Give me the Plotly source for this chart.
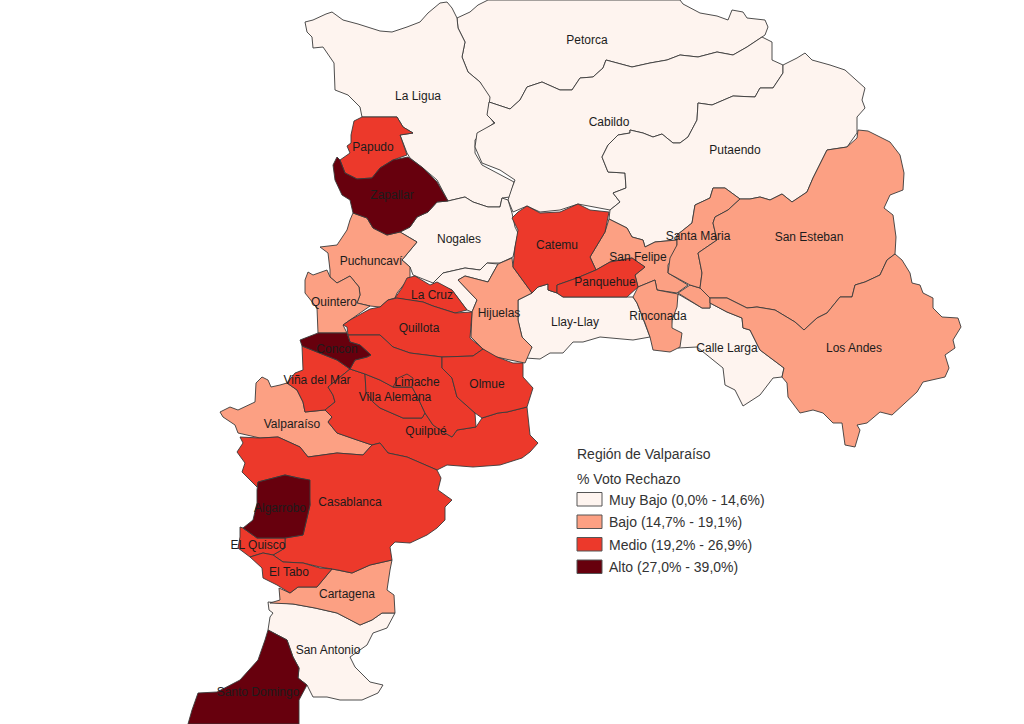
import plotly.graph_objects as go

# outlines of each comuna (x, y as on the picture)
petorca = [(457,18),(470,12),(478,5),(488,0),(680,0),(683,4),(700,13),(717,16),(728,20),(732,10),(743,12),(747,18),(765,20),(768,27),(765,35),(762,37),(747,47),(733,55),(717,52),(698,57),(680,55),(667,60),(650,63),(632,67),(606,60),(603,68),(593,77),(580,78),(572,90),(560,90),(542,82),(527,87),(520,100),(510,109),(498,105),(489,102),(480,82),(468,72),(462,57),(465,42),(458,28)]
la_ligua = [(305,22),(313,20),(326,14),(332,12),(343,20),(358,24),(380,31),(392,32),(407,27),(420,22),(428,13),(440,3),(447,2),(452,8),(457,18),(458,28),(465,42),(462,57),(468,72),(480,82),(490,97),(488,115),(494,123),(482,132),(475,140),(475,153),(482,165),(500,175),(514,182),(510,197),(502,198),(500,207),(488,207),(473,202),(465,197),(448,201),(437,180),(423,168),(410,158),(407,153),(400,135),(413,133),(403,127),(397,117),(377,117),(362,117),(360,107),(348,95),(335,90),(334,63),(323,47),(313,48),(312,37),(307,32)]
cabildo = [(489,102),(498,105),(510,109),(520,100),(527,87),(542,82),(560,90),(572,90),(580,78),(593,77),(603,68),(606,60),(632,67),(650,63),(667,60),(680,55),(698,57),(717,52),(733,55),(747,47),(762,37),(772,42),(772,60),(783,65),(783,73),(773,88),(760,88),(755,97),(733,96),(712,105),(698,103),(697,120),(688,137),(680,143),(673,143),(662,134),(653,137),(643,133),(630,130),(630,133),(618,135),(608,145),(602,157),(608,172),(625,173),(626,188),(613,193),(620,202),(610,210),(578,204),(560,210),(540,212),(527,206),(513,212),(508,200),(512,188),(515,180),(500,170),(482,163),(475,147),(477,133),(495,123),(487,115)]
putaendo = [(630,130),(643,133),(653,137),(662,134),(673,143),(680,143),(688,137),(697,120),(698,103),(712,105),(733,96),(755,97),(760,88),(773,88),(783,73),(783,65),(797,58),(805,53),(812,60),(830,65),(845,70),(865,88),(862,100),(865,108),(857,117),(857,133),(847,147),(827,150),(813,178),(807,192),(792,202),(782,194),(770,200),(760,197),(750,199),(740,199),(725,188),(713,188),(710,198),(695,205),(692,223),(677,235),(677,240),(655,242),(645,247),(643,240),(632,237),(627,228),(609,219),(610,210),(620,202),(613,193),(626,188),(625,173),(608,172),(602,157),(608,145),(618,135),(630,133)]
papudo = [(354,121),(362,117),(377,117),(397,117),(403,127),(413,133),(400,135),(407,155),(393,160),(380,168),(372,178),(357,179),(345,173),(340,160),(350,153),(347,146),(351,143),(351,135)]
zapallar = [(337,157),(340,160),(345,173),(357,179),(372,178),(380,168),(393,160),(408,157),(423,168),(437,182),(448,201),(437,202),(428,212),(417,217),(410,227),(400,232),(387,235),(373,228),(367,218),(353,213),(350,200),(342,195),(335,180),(333,165)]
nogales = [(448,201),(465,197),(473,202),(488,207),(500,207),(502,198),(508,200),(512,213),(515,227),(518,233),(513,257),(500,263),(487,263),(480,270),(465,268),(443,273),(433,283),(413,275),(410,267),(402,260),(417,242),(400,232),(410,227),(417,217),(428,212),(437,202)]
la_calera = [(433,283),(443,273),(465,268),(480,270),(487,263),(498,264),(488,282),(465,276),(458,280),(477,300),(472,312),(467,310),(452,290)]
puchuncavi = [(353,213),(367,218),(373,228),(387,235),(400,232),(417,242),(402,260),(410,267),(410,277),(397,293),(395,298),(388,300),(380,307),(370,306),(357,303),(360,295),(359,287),(350,276),(337,283),(330,277),(330,270),(328,253),(320,247),(337,245),(347,230),(350,220)]
quintero = [(305,280),(308,272),(313,275),(327,270),(330,277),(337,283),(350,276),(359,287),(360,295),(357,303),(370,306),(350,320),(343,325),(347,333),(327,333),(318,333),(317,308),(312,302),(305,293)]
concon = [(300,340),(318,333),(327,333),(347,333),(350,342),(360,345),(371,355),(367,357),(355,360),(350,369),(337,360),(317,352),(302,346)]
vina_del_mar = [(302,346),(317,352),(337,360),(350,369),(345,373),(337,380),(328,387),(333,395),(335,402),(325,410),(305,412),(303,402),(297,390),(287,383),(295,373),(303,370)]
valparaiso = [(220,412),(230,407),(238,410),(255,402),(256,383),(262,377),(268,380),(271,387),(280,385),(287,383),(297,390),(303,402),(305,412),(325,410),(332,417),(328,422),(337,433),(357,440),(372,445),(363,455),(337,453),(308,457),(300,447),(278,437),(260,438),(238,433),(235,425),(223,417)]
la_cruz = [(395,298),(402,288),(407,278),(415,276),(430,285),(437,282),(452,290),(467,310),(455,313),(433,306),(423,302),(397,298)]
quillota = [(343,325),(350,320),(370,309),(380,307),(388,300),(397,298),(423,302),(433,306),(455,313),(472,312),(470,338),(483,349),(473,356),(442,357),(410,353),(393,347),(380,335),(348,335),(347,327)]
hijuelas = [(458,280),(465,276),(488,282),(498,264),(512,258),(513,267),(532,293),(518,300),(518,320),(522,337),(532,347),(525,363),(510,360),(492,356),(483,349),(471,337),(472,312),(477,300)]
catemu = [(512,218),(518,212),(527,206),(540,213),(560,212),(578,204),(590,210),(609,212),(605,232),(590,257),(596,270),(577,278),(557,285),(557,293),(548,290),(548,284),(538,287),(532,293),(513,267),(515,247),(518,230)]
san_felipe = [(609,219),(627,228),(632,237),(643,240),(645,247),(655,242),(677,240),(677,250),(668,265),(668,273),(688,285),(677,293),(657,290),(655,280),(638,287),(635,275),(645,267),(632,258),(610,262),(596,270),(590,257),(605,232)]
san_felipe_sur = [(690,285),(700,288),(710,298),(710,308),(702,308),(678,293)]
panquehue = [(557,285),(577,278),(596,270),(610,262),(632,258),(645,267),(635,275),(638,287),(627,297),(603,297),(583,297),(563,297),(557,293)]
llay_llay = [(518,300),(532,293),(538,287),(548,284),(548,290),(557,293),(563,297),(583,297),(603,297),(627,297),(633,297),(637,303),(645,323),(650,337),(633,340),(613,338),(600,337),(583,342),(573,342),(563,353),(550,353),(540,359),(525,358),(532,347),(522,337),(518,320)]
calle_larga = [(678,294),(702,308),(710,308),(710,303),(727,312),(742,318),(743,328),(750,330),(760,350),(784,368),(782,377),(773,378),(760,395),(743,406),(735,390),(725,385),(723,368),(707,355),(697,347),(678,348),(670,340),(672,320)]
rinconada = [(638,287),(655,280),(657,290),(678,294),(677,307),(672,320),(672,328),(682,333),(680,347),(670,352),(653,350),(650,337),(645,323),(637,303),(633,297)]
santa_maria = [(713,188),(725,188),(740,199),(728,210),(715,217),(713,223),(717,240),(698,253),(702,273),(700,288),(690,285),(668,273),(670,258),(677,245),(677,235),(692,223),(695,205),(710,198)]
san_esteban = [(740,199),(750,199),(760,197),(770,200),(782,194),(792,202),(807,192),(813,178),(827,150),(847,147),(857,138),(858,130),(868,131),(890,142),(900,155),(904,173),(903,190),(890,195),(884,208),(893,215),(896,237),(895,254),(887,260),(880,275),(865,282),(855,285),(852,297),(840,297),(827,313),(817,318),(804,330),(795,322),(775,310),(757,307),(747,308),(727,298),(710,298),(700,288),(702,273),(698,253),(717,240),(713,223),(715,217),(728,210)]
los_andes = [(710,298),(727,298),(747,308),(757,307),(775,310),(795,322),(804,330),(817,318),(827,313),(840,297),(852,297),(855,285),(865,282),(880,275),(887,260),(895,254),(902,260),(910,273),(912,283),(920,285),(923,293),(933,298),(933,308),(942,317),(958,318),(961,327),(953,340),(955,348),(945,355),(949,368),(945,377),(923,382),(917,392),(905,403),(892,415),(880,412),(867,423),(857,425),(860,430),(855,447),(845,445),(842,423),(833,423),(823,413),(813,410),(800,413),(788,397),(787,383),(782,377),(784,368),(760,350),(750,330),(743,328),(742,318),(727,312),(710,303)]
quilpue = [(350,369),(345,373),(337,380),(328,387),(333,395),(335,402),(325,410),(332,417),(328,422),(337,433),(357,440),(372,445),(380,443),(388,453),(407,457),(437,470),(447,465),(473,467),(500,465),(522,458),(530,452),(538,443),(530,435),(527,407),(507,412),(498,413),(482,418),(476,427),(457,430),(452,437),(445,433),(433,425),(425,413),(422,418),(403,418),(380,408),(373,402),(366,392),(365,374)]
villa_alemana = [(365,374),(380,380),(393,387),(412,387),(418,398),(425,413),(422,418),(403,418),(380,408),(373,402),(366,392)]
limache = [(350,369),(355,360),(367,357),(371,355),(360,345),(350,342),(348,335),(380,335),(393,347),(410,353),(442,357),(442,368),(452,378),(457,397),(475,413),(476,427),(457,430),(452,437),(445,433),(433,425),(425,413),(418,398),(412,387),(393,387),(380,380),(365,374)]
limache_centro = [(393,387),(398,378),(407,374),(413,378),(412,387)]
olmue = [(442,357),(473,356),(483,349),(497,357),(513,363),(523,363),(523,377),(533,388),(527,407),(507,412),(498,413),(482,418),(475,413),(457,397),(452,378),(442,368)]
casablanca = [(240,437),(260,438),(278,437),(300,447),(308,457),(337,453),(363,455),(372,445),(380,443),(388,453),(407,457),(437,470),(441,478),(438,490),(452,500),(445,507),(445,520),(437,528),(427,535),(410,543),(395,542),(390,547),(392,560),(370,565),(352,573),(338,570),(320,567),(303,563),(283,562),(273,555),(285,548),(285,538),(303,535),(310,505),(308,480),(298,478),(285,475),(258,482),(257,487),(242,472),(245,463),(237,452),(243,443)]
algarrobo = [(258,482),(285,475),(298,478),(310,480),(310,505),(303,535),(285,538),(257,538),(243,528),(253,520),(257,503),(257,490)]
el_quisco = [(240,527),(243,528),(257,538),(285,538),(285,548),(273,555),(263,553),(250,557),(238,548),(240,537)]
el_tabo = [(250,557),(263,553),(273,555),(283,562),(303,563),(320,568),(332,569),(317,587),(298,587),(290,593),(277,585),(263,578),(262,568)]
cartagena = [(332,569),(338,570),(352,573),(370,565),(392,560),(390,570),(387,590),(394,595),(395,613),(382,613),(372,620),(360,625),(337,613),(315,608),(293,604),(270,603),(280,600),(279,588),(290,593),(298,587),(317,587)]
san_antonio = [(268,602),(293,604),(315,608),(337,613),(360,625),(372,620),(382,613),(395,613),(387,628),(373,633),(367,645),(350,657),(355,667),(370,682),(383,685),(378,693),(362,700),(340,700),(327,697),(313,697),(307,685),(298,678),(299,668),(293,657),(287,640),(268,630),(270,617),(273,613),(269,610)]
santo_domingo = [(268,630),(287,640),(293,657),(299,668),(298,678),(307,685),(299,700),(299,724),(188,724),(192,710),(198,693),(217,692),(240,680),(258,660),(265,640)]

# class of every comuna: 0 muy bajo, 1 bajo, 2 medio, 3 alto
comunas = [
    ("Petorca", petorca, 0), ("La Ligua", la_ligua, 0), ("Cabildo", cabildo, 0),
    ("Putaendo", putaendo, 0), ("Nogales", nogales, 0), ("La Calera", la_calera, 0),
    ("Llay-Llay", llay_llay, 0), ("Calle Larga", calle_larga, 0), ("San Antonio", san_antonio, 0),
    ("Puchuncavi", puchuncavi, 1), ("Quintero", quintero, 1), ("Valparaiso", valparaiso, 1),
    ("Hijuelas", hijuelas, 1), ("San Felipe", san_felipe, 1), ("San Felipe sur", san_felipe_sur, 1),
    ("Rinconada", rinconada, 1), ("Santa Maria", santa_maria, 1), ("San Esteban", san_esteban, 1),
    ("Los Andes", los_andes, 1), ("Cartagena", cartagena, 1),
    ("Papudo", papudo, 2), ("Vina del Mar", vina_del_mar, 2), ("La Cruz", la_cruz, 2),
    ("Quillota", quillota, 2), ("Catemu", catemu, 2), ("Panquehue", panquehue, 2),
    ("Quilpue", quilpue, 2), ("Villa Alemana", villa_alemana, 2), ("Limache", limache, 2),
    ("Limache centro", limache_centro, 2), ("Olmue", olmue, 2), ("Casablanca", casablanca, 2),
    ("El Quisco", el_quisco, 2), ("El Tabo", el_tabo, 2),
    ("Zapallar", zapallar, 3), ("Concon", concon, 3), ("Algarrobo", algarrobo, 3),
    ("Santo Domingo", santo_domingo, 3),
]

etiquetas = ["La Ligua", "Petorca", "Cabildo", "Putaendo", "Papudo", "Zapallar", "San Esteban", "Santa Maria",
             "Nogales", "Catemu", "San Felipe", "Puchuncaví", "La Cruz", "Quintero", "Panquehue", "Hijuelas",
             "Quillota", "Llay-Llay", "Rinconada", "Los Andes", "Calle Larga", "Concon", "Viña del Mar", "Limache",
             "Olmue", "Villa Alemana", "Valparaíso", "Quilpué", "Casablanca", "Algarrobo", "EL Quisco", "El Tabo",
             "Cartagena", "San Antonio", "Santo Domingo"]
etiqueta_x = [418, 587, 609, 735, 373, 392, 809, 698, 459, 557, 638, 371, 432, 334, 605, 499, 419, 575, 658, 854,
              727, 337, 317, 417, 487, 395, 292, 426, 350, 280, 258, 289, 347, 328, 258]
etiqueta_y = [97, 41, 123, 151, 148, 196, 238, 237, 240, 246, 258, 262, 296, 303, 283, 314, 329, 323, 317, 349,
              349, 350, 381, 383, 385, 398, 425, 432, 503, 509, 546, 573, 595, 651, 693]

clases = ["Muy Bajo (0,0% - 14,6%)", "Bajo (14,7% - 19,1%)", "Medio (19,2% - 26,9%)", "Alto (27,0% - 39,0%)"]
colores = ["#fef4ef", "#fca083", "#ec392b", "#67000d"]

fig = go.Figure()

for nombre, contorno, clase in comunas:
    xs = [p[0] for p in contorno] + [contorno[0][0]]
    ys = [p[1] for p in contorno] + [contorno[0][1]]
    fig.add_trace(go.Scatter(x=xs, y=ys, mode="lines", fill="toself", fillcolor=colores[clase],
                             line=dict(color="#3a3a3a", width=0.9), name=nombre, showlegend=False,
                             hoverinfo="name"))

fig.add_trace(go.Scatter(x=etiqueta_x, y=etiqueta_y, mode="text", text=etiquetas, showlegend=False,
                         textfont=dict(family="Liberation Sans", size=12, color="#1c1c1c"), hoverinfo="skip"))

# legend block on the right, drawn by hand to get the wide swatches
fig.add_annotation(x=575, y=454, text="Región de Valparaíso", showarrow=False, xanchor="left",
                   font=dict(family="Liberation Sans", size=14, color="#333333"))
fig.add_annotation(x=575, y=479, text="% Voto Rechazo", showarrow=False, xanchor="left",
                   font=dict(family="Liberation Sans", size=14, color="#333333"))
for i, clase in enumerate(clases):
    y0 = 492.5 + i * 22.5
    fig.add_shape(type="rect", x0=577, x1=602, y0=y0, y1=y0 + 13.5, fillcolor=colores[i],
                  line=dict(color="#555555", width=1))
    fig.add_annotation(x=607, y=y0 + 7, text=clase, showarrow=False, xanchor="left",
                       font=dict(family="Liberation Sans", size=14, color="#333333"))

fig.update_xaxes(range=[0, 1024], visible=False)
fig.update_yaxes(range=[724, 0], visible=False)
fig.update_layout(width=1024, height=724, margin=dict(l=0, r=0, t=0, b=0),
                  paper_bgcolor="white", plot_bgcolor="white")

# the page has a default body margin that would push the map 8px off
fig.write_html("out.html", config={"displayModeBar": False},
               post_script="document.body.style.margin='0';")
